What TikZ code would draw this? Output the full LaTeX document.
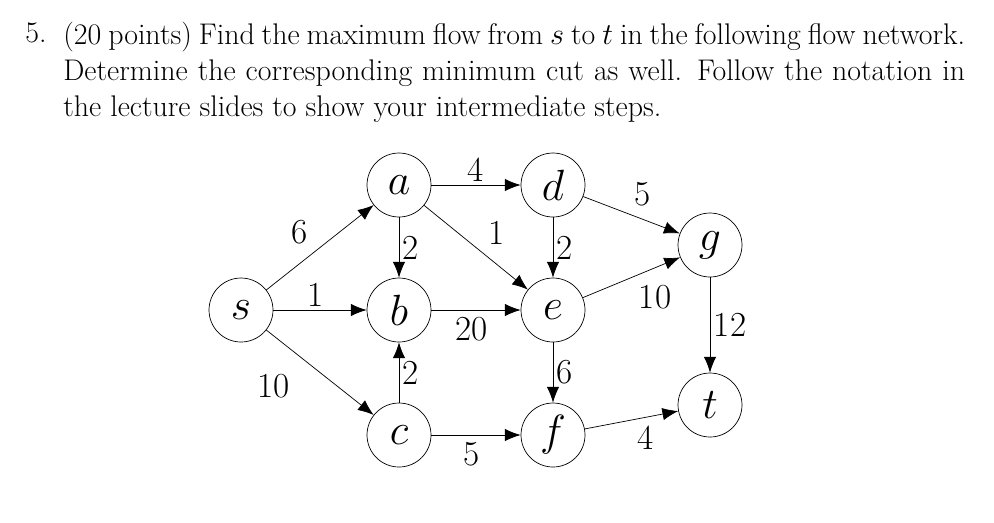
\documentclass[tikz,border=0pt]{standalone}
\usetikzlibrary{arrows.meta}
\begin{document}
\begin{tikzpicture}[x=0.02cm,y=-0.02cm,
  vertex/.style={draw, circle, minimum size=1.28cm, inner sep=0pt, font=\fontsize{24}{28}\selectfont},
  flow/.style={-{Latex[length=9pt,width=7pt]}},
  capacity/.style={font=\fontsize{20}{24}\selectfont, inner sep=2pt}]
\useasboundingbox (0,0) rectangle (994,522);
% Problem text
\node[anchor=north west, inner sep=0pt, font=\fontsize{17}{20.5}\selectfont] (num) at (25,22) {5.};
\node[anchor=north west, inner sep=0pt, text width=18.04cm, align=justify, font=\fontsize{17}{20.5}\selectfont] (text) at (63,22)
  {(20 points) Find the maximum flow from $s$ to $t$ in the following flow network. Determine the corresponding minimum cut as well. Follow the notation in the lecture slides to show your intermediate steps.};

% Vertices
\node[vertex] (a) at (399,185) {$a$};
\node[vertex] (d) at (553,185) {$d$};
\node[vertex] (g) at (710,245) {$g$};
\node[vertex] (s) at (241,310) {$s$};
\node[vertex] (b) at (399,310) {$b$};
\node[vertex] (e) at (553,310) {$e$};
\node[vertex] (t) at (710,405) {$t$};
\node[vertex] (c) at (399,435) {$c$};
\node[vertex] (f) at (553,435) {$f$};

% Edges
\draw[flow] (s) -- node[capacity, pos=0.45, above left=2pt] {6} (a);
\draw[flow] (s) -- node[capacity, pos=0.45, above] {1} (b);
\draw[flow] (s) -- node[capacity, pos=0.35, below left=6pt] {10} (c);
\draw[flow] (a) -- node[capacity, above] {4} (d);
\draw[flow] (a) -- node[capacity, right] {2} (b);
\draw[flow] (a) -- node[capacity, pos=0.55, above right=2pt] {1} (e);
\draw[flow] (c) -- node[capacity, right] {2} (b);
\draw[flow] (b) -- node[capacity, pos=0.45, below=2pt] {20} (e);
\draw[flow] (d) -- node[capacity, right] {2} (e);
\draw[flow] (d) -- node[capacity, pos=0.45, above right=2pt] {5} (g);
\draw[flow] (e) -- node[capacity, pos=0.5, below right=2pt] {10} (g);
\draw[flow] (e) -- node[capacity, right] {6} (f);
\draw[flow] (c) -- node[capacity, pos=0.45, below=2pt] {5} (f);
\draw[flow] (g) -- node[capacity, right] {12} (t);
\draw[flow] (f) -- node[capacity, pos=0.5, below right=1pt] {4} (t);
\end{tikzpicture}
\end{document}
